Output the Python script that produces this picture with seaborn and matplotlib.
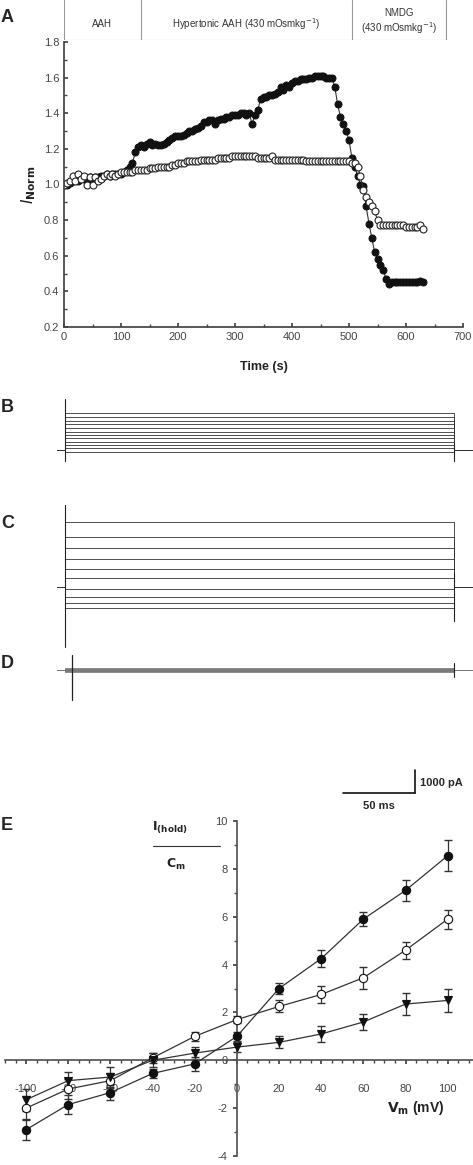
import numpy as np
import pandas as pd
import seaborn as sns
import matplotlib
matplotlib.use("Agg")
import matplotlib.pyplot as plt

sns.set_theme(style="white")
plt.rcParams['font.family'] = ['Liberation Sans', 'DejaVu Sans']
plt.rcParams['axes.unicode_minus'] = False

# ---------- data ----------
time_s = list(range(0, 631, 5))
filled_norm = [1.00,1.00,1.01,1.02,1.03,1.02,1.04,1.03,1.02,1.04,1.03,1.04,1.04,1.05,1.05,1.06,1.05,1.06,1.06,1.06,
               1.06,1.07,1.08,1.10,1.12,1.18,1.21,1.22,1.21,1.23,1.24,1.22,1.23,1.22,1.22,1.23,1.24,1.25,1.26,1.27,
               1.27,1.27,1.28,1.29,1.30,1.30,1.31,1.32,1.33,1.35,1.35,1.36,1.36,1.34,1.36,1.37,1.37,1.38,1.38,1.39,
               1.39,1.39,1.40,1.40,1.39,1.40,1.34,1.39,1.42,1.48,1.49,1.49,1.50,1.50,1.51,1.52,1.55,1.53,1.56,1.55,
               1.57,1.58,1.58,1.59,1.59,1.59,1.60,1.60,1.61,1.61,1.61,1.61,1.60,1.60,1.60,1.55,1.45,1.38,1.34,1.30,
               1.25,1.15,1.10,1.05,1.00,0.99,0.88,0.78,0.70,0.62,0.58,0.55,0.52,0.47,0.44,0.45,0.45,0.45,0.45,0.45,
               0.45,0.45,0.45,0.45,0.45,0.46,0.45]
open_norm = [1.00,1.01,1.02,1.05,1.02,1.06,1.03,1.05,1.00,1.04,1.00,1.04,1.02,1.03,1.05,1.06,1.05,1.06,1.05,1.06,
             1.07,1.07,1.07,1.07,1.07,1.08,1.08,1.08,1.08,1.08,1.09,1.09,1.09,1.10,1.10,1.10,1.10,1.10,1.11,1.11,
             1.12,1.12,1.12,1.13,1.13,1.13,1.13,1.13,1.14,1.14,1.14,1.14,1.14,1.14,1.15,1.15,1.15,1.15,1.15,1.16,
             1.16,1.16,1.16,1.16,1.16,1.16,1.16,1.16,1.15,1.15,1.15,1.15,1.15,1.16,1.14,1.14,1.14,1.14,1.14,1.14,
             1.14,1.14,1.14,1.14,1.14,1.13,1.13,1.13,1.13,1.13,1.13,1.13,1.13,1.13,1.13,1.13,1.13,1.13,1.13,1.13,
             1.13,1.12,1.12,1.10,1.05,0.97,0.93,0.90,0.88,0.85,0.80,0.77,0.77,0.77,0.77,0.77,0.77,0.77,0.77,0.77,
             0.76,0.76,0.76,0.76,0.76,0.77,0.75]

phase_edges = [0, 135, 505, 670]
phase_labels = ["AAH", "Hypertonic AAH (430 mOsmkg$^{-1}$)", "NMDG\n(430 mOsmkg$^{-1}$)"]

trace_start_ms, trace_end_ms = 0, 270
levels_B = [1600, 1450, 1280, 1120, 960, 800, 650, 500, 350, 200, 80, -80]
levels_C = [2830, 2170, 1700, 1220, 780, 390, -90, -430, -700, -910]
levels_D = [90, 65, 40, 15, -10, -35, -60, -85]

vm = [-100, -80, -60, -40, -20, 0, 20, 40, 60, 80, 100]
iv_filled = [-2.9, -1.85, -1.35, -0.55, -0.15, 1.0, 3.0, 4.25, 5.9, 7.1, 8.55]
iv_filled_err = [0.45, 0.4, 0.3, 0.2, 0.3, 0.2, 0.25, 0.35, 0.3, 0.45, 0.65]
iv_open = [-2.0, -1.2, -0.85, 0.1, 1.0, 1.7, 2.25, 2.75, 3.45, 4.6, 5.9]
iv_open_err = [0.5, 0.4, 0.3, 0.2, 0.2, 0.15, 0.25, 0.35, 0.45, 0.35, 0.4]
iv_tri = [-1.65, -0.85, -0.7, 0.0, 0.3, 0.55, 0.75, 1.1, 1.6, 2.35, 2.5]
iv_tri_err = [0.45, 0.35, 0.4, 0.3, 0.25, 0.2, 0.25, 0.35, 0.35, 0.45, 0.5]

W, H = 473, 1165
fig = plt.figure(figsize=(W/100, H/100), dpi=100)

def rect(x0, y0, x1, y1):
    return [x0/W, 1-y1/H, (x1-x0)/W, (y1-y0)/H]

# ---------- Panel A ----------
axA = fig.add_axes(rect(64, 42, 463, 327))
dfA = pd.DataFrame({"t": time_s, "f": filled_norm, "o": open_norm})
sns.lineplot(data=dfA, x="t", y="f", ax=axA, color="#333", lw=0.8, marker="o",
             markersize=5, markerfacecolor="#111", markeredgecolor="#111")
sns.lineplot(data=dfA, x="t", y="o", ax=axA, color="#333", lw=0.8, marker="o",
             markersize=5, markerfacecolor="white", markeredgecolor="#222", markeredgewidth=0.8)
axA.set_xlim(0, 700); axA.set_ylim(0.2, 1.8)
axA.set_xticks(range(0, 701, 100)); axA.set_yticks(np.arange(0.2, 1.81, 0.2))
axA.set_yticklabels([f"{v:.1f}" for v in np.arange(0.2, 1.81, 0.2)])
axA.set_xticks(range(50, 700, 100), minor=True); axA.set_yticks(np.arange(0.3, 1.8, 0.2), minor=True)
for s in ["top", "right"]: axA.spines[s].set_visible(False)
for s in ["left", "bottom"]: axA.spines[s].set_color("#444")
axA.tick_params(which="both", direction="in", length=3, labelsize=8, colors="#444", left=True, bottom=True)
axA.tick_params(which="minor", length=2)
axA.set_xlabel("Time (s)", fontsize=9, fontweight="bold", color="#222", labelpad=14)
axA.set_ylabel(r"$\mathbf{\it{I}}_{\mathbf{Norm}}$", fontsize=11, color="#222")

axH = fig.add_axes(rect(64, 0, 463, 40))
axH.set_xlim(0, 700); axH.set_ylim(0, 1); axH.axis("off")
for e in phase_edges:
    axH.axvline(e, color="#999", lw=0.8)
axH.axhline(0, xmin=0, xmax=670/700, color="#999", lw=0.8)
for i, lab in enumerate(phase_labels):
    axH.text((phase_edges[i]+phase_edges[i+1])/2, 0.4 if i < 2 else 0.45, lab,
             ha="center", va="center", fontsize=7, color="#333")

# ---------- Panels B-D ----------
PX_PER_PA = 23/1000
def trace_axes(ytop, ybot, hold_px, levels, color="#333", lw=0.6):
    ax = fig.add_axes(rect(57, ytop, 473, ybot))
    ax.set_xlim(-5.5, 283)
    ax.set_ylim(-(ybot-hold_px)/PX_PER_PA, (hold_px-ytop)/PX_PER_PA)
    ax.axis("off")
    for lv in levels:
        xs = [-5.5, trace_start_ms, trace_start_ms, trace_end_ms, trace_end_ms, 283]
        ys = [0, 0, lv, lv, 0, 0]
        sns.lineplot(x=xs, y=ys, ax=ax, color=color, lw=lw, sort=False, estimator=None)
    return ax

axB = trace_axes(398, 470, 450, levels_B)
axB.plot([0, 0], [-500, 2200], color="#222", lw=0.8)
axB.plot([270, 270], [-500, 300], color="#222", lw=0.8)
axC = trace_axes(505, 650, 587, levels_C)
axC.plot([0, 0], [-2600, 3600], color="#222", lw=0.8)
axC.plot([270, 270], [-1500, 600], color="#222", lw=0.8)
axD = trace_axes(650, 720, 670, levels_D, color="#777", lw=0.6)
axD.plot([5, 5], [-1300, 650], color="#222", lw=0.9)
axD.plot([270, 270], [-300, 300], color="#222", lw=0.8)

fig.add_artist(plt.Line2D([415/W, 415/W], [1-770/H, 1-793/H], color="#111", lw=1.2))
fig.add_artist(plt.Line2D([343/W, 415/W], [1-793/H, 1-793/H], color="#111", lw=1.2))
fig.text(420/W, 1-783/H, "1000 pA", fontsize=8, fontweight="bold", va="center")
fig.text(379/W, 1-806/H, "50 ms", fontsize=8, fontweight="bold", ha="center", va="center")

# ---------- Panel E ----------
axE = fig.add_axes(rect(5, 821, 473, 1156))
for y, e, fc, mk in [(iv_filled, iv_filled_err, "#111", "o"), (iv_open, iv_open_err, "white", "o"),
                     (iv_tri, iv_tri_err, "#111", "v")]:
    axE.errorbar(vm, y, yerr=e, fmt="none", ecolor="#333", elinewidth=0.9, capsize=3, zorder=2)
    sns.lineplot(x=vm, y=y, ax=axE, color="#333", lw=0.9, marker=mk, markersize=6,
                 markerfacecolor=fc, markeredgecolor="#111", markeredgewidth=0.8, zorder=3)
axE.set_xlim(-110, 112); axE.set_ylim(-4, 10)
axE.spines["left"].set_position(("data", 0)); axE.spines["bottom"].set_position(("data", 0))
for s in ["top", "right"]: axE.spines[s].set_visible(False)
for s in ["left", "bottom"]: axE.spines[s].set_color("#555")
axE.set_xticks(range(-100, 101, 20)); axE.set_xticks(range(-110, 112, 5), minor=True)
axE.set_yticks(range(-4, 11, 2)); axE.set_yticks(range(-3, 10, 2), minor=True)
axE.tick_params(which="both", direction="out", length=3, labelsize=8, colors="#444", left=True, bottom=True)
axE.tick_params(axis="x", pad=14)
axE.tick_params(which="minor", length=2)
axE.text(85, -2.0, r"$\mathbf{V_m}$ (mV)", fontsize=10, fontweight="bold", ha="center", va="center", color="#222")
axE.text(-32, 9.7, r"$\mathbf{I_{(hold)}}$", fontsize=9, ha="center", va="center", color="#222")
axE.plot([-40, -8], [8.95, 8.95], color="#333", lw=0.8, clip_on=False)
axE.text(-29, 8.2, r"$\mathbf{C_m}$", fontsize=9, ha="center", va="center", color="#222")

for lab, y in [("A", 18), ("B", 407), ("C", 523), ("D", 664), ("E", 825)]:
    fig.text(0.002, 1-y/H, lab, fontsize=13, fontweight="bold", va="center")

fig.savefig("out.png", dpi=100)
